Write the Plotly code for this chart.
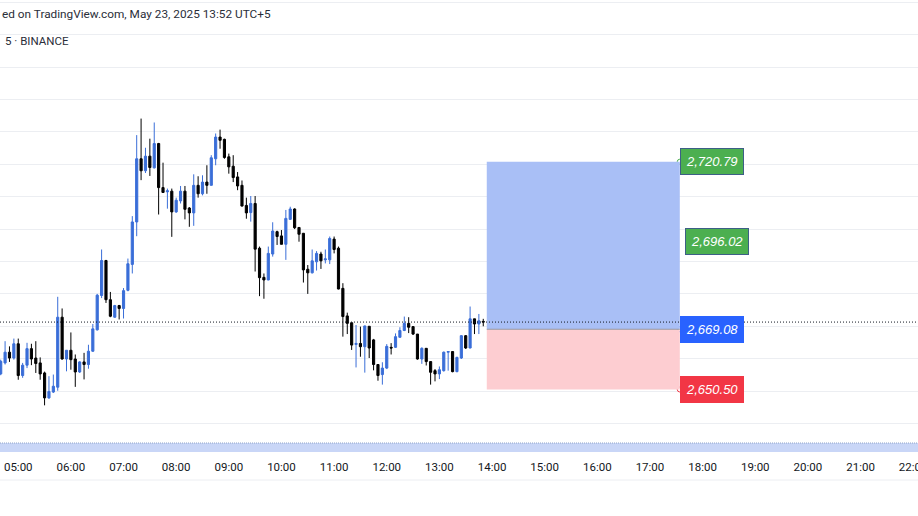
import plotly.graph_objects as go
import pandas as pd

# 5 minute ETH/USDT candles, 04:40 .. 13:50
OPEN = [2655.3, 2658.7, 2662.0, 2660.2, 2664.6, 2654.8, 2658.0, 2663.1, 2660.2, 2658.7,
        2655.6, 2647.9, 2649.7, 2651.2, 2672.8, 2659.9, 2662.6, 2659.9, 2655.9, 2659.0,
        2658.2, 2662.3, 2668.9, 2679.5, 2690.3, 2678.2, 2672.8, 2676.4, 2675.5, 2681.1,
        2689.1, 2702.2, 2721.7, 2718.0, 2722.5, 2718.9, 2726.4, 2712.8, 2711.5, 2711.7,
        2705.3, 2708.7, 2711.7, 2706.5, 2705.0, 2713.5, 2710.9, 2714.5, 2713.5, 2721.7,
        2728.4, 2727.7, 2722.3, 2719.4, 2716.1, 2713.5, 2707.3, 2705.1, 2707.9, 2694.1,
        2685.1, 2684.3, 2692.3, 2699.2, 2697.9, 2695.3, 2703.0, 2706.2, 2700.5, 2698.7,
        2687.6, 2686.5, 2689.9, 2692.3, 2690.5, 2690.5, 2696.9, 2694.1, 2681.7, 2673.2,
        2671.1, 2664.4, 2664.7, 2663.7, 2670.0, 2665.8, 2658.2, 2655.1, 2657.1, 2663.5,
        2663.5, 2666.6, 2668.7, 2670.9, 2669.9, 2667.6, 2659.9, 2663.2, 2659.1, 2656.3,
        2655.3, 2656.3, 2662.0, 2662.2, 2656.0, 2660.2, 2667.1, 2663.3, 2672.3, 2670.7,
        2671.5]
HIGH = [2659.7, 2665.4, 2663.8, 2666.2, 2666.2, 2658.7, 2664.9, 2664.6, 2665.4, 2660.4,
        2656.0, 2654.6, 2655.1, 2679.1, 2675.5, 2662.6, 2668.1, 2661.3, 2659.2, 2661.8,
        2664.3, 2670.7, 2680.0, 2693.7, 2690.5, 2680.6, 2676.6, 2676.6, 2681.8, 2690.9,
        2704.0, 2729.0, 2734.1, 2725.1, 2727.9, 2732.9, 2726.6, 2720.5, 2712.5, 2712.5,
        2709.7, 2713.3, 2713.3, 2706.8, 2716.9, 2716.3, 2716.6, 2719.7, 2722.8, 2729.5,
        2730.7, 2727.9, 2723.3, 2722.8, 2717.6, 2715.0, 2709.7, 2710.2, 2710.2, 2694.6,
        2686.3, 2694.6, 2702.1, 2699.5, 2699.7, 2705.9, 2706.9, 2706.4, 2700.6, 2698.8,
        2688.9, 2693.7, 2693.2, 2693.0, 2693.7, 2697.7, 2697.7, 2694.6, 2683.3, 2674.2,
        2671.1, 2670.4, 2669.9, 2670.2, 2670.0, 2666.1, 2658.2, 2658.9, 2664.5, 2664.8,
        2667.8, 2669.7, 2673.0, 2672.8, 2669.9, 2667.6, 2663.5, 2663.2, 2659.1, 2656.8,
        2657.6, 2662.2, 2662.3, 2662.2, 2660.6, 2667.3, 2667.3, 2676.1, 2672.3, 2673.8,
        2672.3]
LOW = [2654.9, 2658.2, 2659.0, 2659.7, 2653.5, 2654.1, 2657.1, 2658.0, 2655.6, 2653.5,
       2645.6, 2647.6, 2649.4, 2650.1, 2659.7, 2656.1, 2656.6, 2651.3, 2655.6, 2653.6,
       2656.9, 2662.1, 2668.7, 2678.7, 2677.2, 2672.8, 2672.6, 2672.1, 2672.4, 2680.8,
       2686.3, 2697.8, 2715.1, 2717.3, 2716.4, 2718.7, 2704.5, 2711.2, 2706.3, 2697.6,
       2705.0, 2707.9, 2703.0, 2700.7, 2701.0, 2709.7, 2710.4, 2710.9, 2713.5, 2719.7,
       2724.8, 2721.7, 2717.1, 2714.5, 2712.0, 2707.0, 2703.2, 2702.3, 2686.9, 2679.3,
       2678.5, 2684.2, 2691.5, 2695.1, 2695.3, 2690.5, 2702.8, 2700.0, 2696.1, 2683.5,
       2680.0, 2686.3, 2687.2, 2687.7, 2689.4, 2689.2, 2692.5, 2681.4, 2666.8, 2667.6,
       2662.7, 2657.3, 2660.6, 2655.7, 2660.2, 2656.4, 2653.2, 2652.0, 2656.8, 2661.3,
       2663.3, 2666.6, 2668.5, 2667.9, 2667.3, 2659.7, 2658.4, 2657.9, 2652.0, 2653.0,
       2653.7, 2656.0, 2656.3, 2655.8, 2655.8, 2659.9, 2663.0, 2663.2, 2667.6, 2667.6,
       2670.0]
CLOSE = [2659.2, 2662.0, 2660.2, 2664.6, 2654.8, 2658.0, 2663.1, 2659.9, 2658.5, 2655.3,
         2647.9, 2649.9, 2651.5, 2672.8, 2659.9, 2662.6, 2659.7, 2655.9, 2659.0, 2658.2,
         2662.3, 2669.2, 2679.6, 2690.3, 2678.2, 2673.1, 2676.4, 2675.5, 2681.0, 2689.3,
         2702.2, 2721.7, 2718.0, 2722.5, 2719.0, 2726.4, 2712.8, 2711.3, 2711.8, 2705.3,
         2708.9, 2711.7, 2706.1, 2705.0, 2713.5, 2710.9, 2714.5, 2713.5, 2722.0, 2728.4,
         2727.4, 2722.1, 2719.2, 2715.9, 2713.3, 2707.1, 2705.0, 2707.9, 2693.8, 2685.0,
         2684.3, 2692.5, 2699.4, 2697.7, 2695.3, 2703.3, 2706.2, 2700.4, 2698.4, 2687.4,
         2686.5, 2690.2, 2692.5, 2690.2, 2690.8, 2697.1, 2693.7, 2681.5, 2673.0, 2670.9,
         2664.2, 2664.7, 2663.7, 2670.1, 2663.3, 2658.2, 2654.8, 2657.1, 2663.8, 2663.3,
         2666.8, 2668.7, 2670.9, 2669.7, 2667.6, 2659.9, 2663.2, 2659.1, 2655.8, 2655.3,
         2656.6, 2662.0, 2662.2, 2656.0, 2660.4, 2667.1, 2663.3, 2672.3, 2670.7, 2671.7,
         2671.3]
TIMES = pd.date_range('2025-05-23 04:40', periods=len(OPEN), freq='5min')

# long position tool
ENTRY = 2669.08
TARGET = 2720.79
STOP = 2650.50
MID_TARGET = 2696.02
POS_START = '2025-05-23 13:54'
POS_END = '2025-05-23 17:34'

X_RANGE = ['2025-05-23 04:39:12', '2025-05-23 22:05:30']
Y_RANGE = [2631.2, 2770.7]

W, H = 918, 516
PLOT_BOTTOM = 452  # px from top


def py(px):
    # paper y from pixel row
    return 1 - px / H


fig = go.Figure(go.Candlestick(
    x=TIMES, open=OPEN, high=HIGH, low=LOW, close=CLOSE,
    increasing=dict(line=dict(color='#3a6ed8', width=1), fillcolor='#3a6ed8'),
    decreasing=dict(line=dict(color='#000000', width=1), fillcolor='#000000'),
    whiskerwidth=0, showlegend=False, hoverinfo='skip',
))

# reward / risk zones (opaque so the grid does not show through)
fig.add_shape(type='rect', x0=POS_START, x1=POS_END, y0=ENTRY, y1=TARGET,
              fillcolor='#a9bff6', line_width=0, layer='above')
fig.add_shape(type='rect', x0=POS_START, x1=POS_END, y0=STOP, y1=ENTRY,
              fillcolor='#fdcdd1', line_width=0, layer='above')
fig.add_shape(type='line', x0=POS_START, x1=POS_END, y0=ENTRY, y1=ENTRY,
              line=dict(color='#9598a1', width=1))

# last price line
fig.add_shape(type='line', xref='paper', x0=0, x1=1, y0=CLOSE[-1], y1=CLOSE[-1],
              line=dict(color='#131722', width=1, dash='1px,2px'))

# bottom strip + time axis border
fig.add_shape(type='rect', xref='paper', yref='paper', x0=0, x1=1, y0=py(452), y1=py(443),
              fillcolor='#c9d6f7', line_width=0)
fig.add_shape(type='line', xref='paper', yref='paper', x0=0, x1=1, y0=py(443), y1=py(443),
              line=dict(color='#8fa3c8', width=1, dash='1px,1px'))
fig.add_shape(type='line', xref='paper', yref='paper', x0=0, x1=1, y0=py(480), y1=py(480),
              line=dict(color='#eceef2', width=1))

labels = [(TARGET, '#4caf50', 0), (MID_TARGET, '#4caf50', 5), (ENTRY, '#2962ff', 0), (STOP, '#f23645', 0)]
for price, col, shift in labels:
    fig.add_annotation(x=POS_END, y=price, text=f'{price:,.2f}', showarrow=False,
                       xanchor='left', yanchor='middle', xshift=shift,
                       bgcolor=col, bordercolor='#3d5f86' if col == '#4caf50' else col,
                       borderwidth=1, borderpad=5,
                       font=dict(family='Liberation Sans, Arial', size=13, color='white', style='italic'))

fig.add_trace(go.Scatter(
    x=[POS_END] * 4, y=[TARGET, MID_TARGET, ENTRY, STOP], mode='markers',
    marker=dict(size=5, color='white', line=dict(width=1, color=['#4caf50', 'white', '#2962ff', '#f23645'])),
    showlegend=False, hoverinfo='skip', cliponaxis=False,
))

fig.add_annotation(xref='paper', yref='paper', x=0, y=py(14), xanchor='left', yanchor='middle',
                   text='ed on TradingView.com, May 23, 2025 13:52 UTC+5', showarrow=False,
                   font=dict(family='Roboto', size=11.8, color='#2a2e39'))
fig.add_annotation(xref='paper', yref='paper', x=0, y=py(41), xanchor='left', yanchor='middle',
                   text='5 · BINANCE', showarrow=False, xshift=3,
                   font=dict(family='Roboto', size=11.5, color='#2a2e39'))

fig.update_layout(
    width=W, height=H, margin=dict(l=0, r=0, t=0, b=0, autoexpand=False),
    paper_bgcolor='white', plot_bgcolor='white',
    xaxis=dict(type='date', range=X_RANGE, rangeslider=dict(visible=False), automargin=False,
               dtick=3600000, tick0='2025-05-23 00:00', tickformat='%H:%M',
               showgrid=False, zeroline=False, showline=False, ticks='',
               ticklabeloverflow='allow', ticklabelstandoff=6,
               tickfont=dict(family='Liberation Sans Narrow, Roboto', size=11.5, color='#131722')),
    yaxis=dict(range=Y_RANGE, domain=[py(PLOT_BOTTOM), 1], dtick=10, tick0=2600, automargin=False,
               showgrid=True, gridcolor='#eceef2', gridwidth=1, zeroline=False,
               showticklabels=False, ticks=''),
)

# the page body has a default 8px margin; drop it so the chart fills the window
fig.write_html('out.html', config={'displayModeBar': False},
               post_script="document.body.style.margin='0';")
